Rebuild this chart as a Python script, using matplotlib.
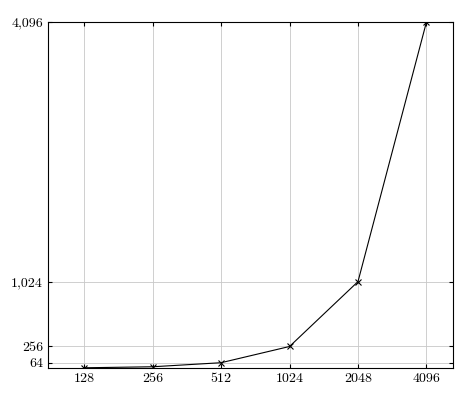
import matplotlib
matplotlib.use("Agg")
import matplotlib.pyplot as plt

plt.rcParams["font.family"] = ["cmr10", "DejaVu Serif"]
plt.rcParams["axes.unicode_minus"] = False

sizes = [128, 256, 512, 1024, 2048, 4096]
values = [4, 16, 64, 256, 1024, 4096]
ytick_vals = [64, 256, 1024, 4096]
ytick_labels = ["64", "256", "1,024", "4,096"]

fig = plt.figure(figsize=(4.74, 4.01), dpi=100)
ax = fig.add_axes([0.101, 0.082, 0.855, 0.863])

xpos = list(range(len(sizes)))
ax.plot(xpos, values, color="black", lw=0.8, marker="x", ms=4, mew=0.8)

ax.set_xlim(-0.53, 5.39)
ax.set_ylim(0, 4096)
ax.set_xticks(xpos)
ax.set_xticklabels([str(s) for s in sizes])
ax.set_yticks(ytick_vals)
ax.set_yticklabels(ytick_labels)
ax.grid(True, color="#c8c8c8", lw=0.6)
ax.tick_params(direction="in", top=True, right=True, labelsize=10, length=3)
for s in ax.spines.values():
    s.set_linewidth(0.8)

fig.savefig("out.png", dpi=100)
